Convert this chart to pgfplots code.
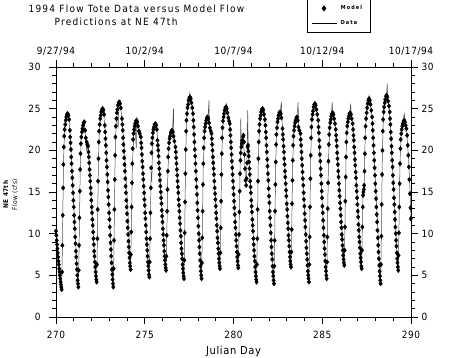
\documentclass[border=0pt]{standalone}
\usepackage{fontspec}
\usepackage{pgfplots}
\usepackage{pgfplotstable}
\pgfplotsset{compat=1.18}
\newfontfamily\cf[LetterSpace=6]{DejaVu Sans Condensed}
\newfontfamily\tf[LetterSpace=13]{DejaVu Sans Condensed}
\newfontfamily\lf[LetterSpace=20]{DejaVu Sans Condensed}

\pgfplotstableread{
t q
270.00 10.3
270.02 9.8
270.04 9.2
270.06 8.7
270.08 8.2
270.10 7.7
270.12 7.2
270.14 6.7
270.16 6.3
270.18 5.8
270.20 5.4
270.22 5.0
270.24 4.6
270.26 4.2
270.28 3.9
270.30 3.6
270.32 3.3
270.34 5.4
270.36 8.6
270.38 12.2
270.40 15.5
270.42 18.3
270.44 20.4
270.46 21.7
270.49 22.5
270.52 23.1
270.55 23.6
270.58 24.0
270.62 24.3
270.66 24.4
270.70 24.2
270.74 23.7
270.78 22.4
270.80 21.6
270.82 20.9
270.84 20.1
270.86 19.2
270.88 18.4
270.90 17.5
270.92 16.7
270.94 15.8
270.96 14.9
270.98 14.0
271.00 13.2
271.02 12.2
271.04 11.4
271.06 10.6
271.08 9.6
271.10 8.8
271.12 7.9
271.14 7.2
271.16 6.4
271.18 5.7
271.20 5.0
271.22 4.4
271.24 4.0
271.26 3.6
271.28 5.6
271.30 8.6
271.32 11.9
271.34 15.1
271.36 17.7
271.38 19.6
271.40 20.8
271.43 21.6
271.46 22.2
271.49 22.6
271.52 23.0
271.56 23.3
271.60 23.4
271.64 22.4
271.68 21.5
271.73 21.0
271.77 20.7
271.81 20.5
271.83 19.8
271.85 19.2
271.87 18.5
271.89 17.7
271.91 17.0
271.93 16.3
271.95 15.5
271.97 14.8
271.99 14.0
272.01 13.2
272.03 12.5
272.05 11.7
272.07 11.0
272.09 10.2
272.11 9.4
272.13 8.7
272.15 7.9
272.17 7.3
272.19 6.6
272.21 6.0
272.23 5.4
272.25 4.9
272.27 4.5
272.29 4.2
272.31 6.3
272.33 9.4
272.35 12.9
272.37 16.3
272.39 19.0
272.41 21.0
272.43 22.3
272.46 23.1
272.49 23.8
272.52 24.2
272.55 24.6
272.59 24.9
272.63 25.0
272.67 24.8
272.71 24.3
272.75 23.0
272.77 22.2
272.79 21.4
272.81 20.6
272.83 19.7
272.85 18.8
272.87 18.0
272.89 17.1
272.91 16.2
272.93 15.2
272.95 14.4
272.97 13.5
272.99 12.5
273.01 11.7
273.03 10.8
273.05 9.8
273.07 8.9
273.09 8.1
273.11 7.3
273.13 6.5
273.15 5.7
273.17 5.1
273.19 4.5
273.21 4.0
273.23 3.6
273.25 5.8
273.27 9.2
273.29 12.9
273.31 16.5
273.33 19.4
273.35 21.6
273.37 22.9
273.40 23.8
273.43 24.5
273.46 24.9
273.49 25.4
273.53 25.7
273.57 25.8
273.61 25.6
273.65 25.1
273.72 23.8
273.74 23.1
273.76 22.4
273.78 21.5
273.80 20.7
273.82 19.9
273.84 19.1
273.86 18.3
273.88 17.5
273.90 16.6
273.92 15.7
273.94 14.9
273.96 14.0
273.98 13.2
274.00 12.4
274.02 11.5
274.04 10.7
274.06 9.9
274.08 9.1
274.10 8.4
274.12 7.7
274.14 7.1
274.16 6.5
274.18 6.1
274.20 5.7
274.22 7.5
274.24 10.2
274.26 13.2
274.28 16.1
274.30 18.4
274.32 20.2
274.34 21.3
274.37 22.0
274.40 22.5
274.43 22.9
274.46 23.2
274.50 23.5
274.54 23.6
274.58 23.4
274.62 22.9
274.67 22.3
274.72 22.0
274.78 21.6
274.80 20.9
274.82 20.3
274.84 19.5
274.86 18.7
274.88 18.0
274.90 17.2
274.92 16.5
274.94 15.7
274.96 14.9
274.98 14.1
275.00 13.4
275.02 12.5
275.04 11.8
275.06 11.0
275.08 10.2
275.10 9.4
275.12 8.7
275.14 8.0
275.16 7.3
275.18 6.6
275.20 6.1
275.22 5.6
275.24 5.1
275.26 4.8
275.28 6.6
275.30 9.4
275.32 12.5
275.34 15.5
275.36 17.9
275.38 19.7
275.40 20.8
275.43 21.5
275.46 22.1
275.49 22.5
275.52 22.8
275.56 23.1
275.60 23.2
275.64 23.0
275.68 22.5
275.72 21.2
275.74 20.6
275.76 20.0
275.78 19.3
275.80 18.5
275.82 17.8
275.84 17.1
275.86 16.4
275.88 15.7
275.90 15.0
275.92 14.3
275.94 13.6
275.96 12.8
275.98 12.1
276.00 11.4
276.02 10.6
276.04 9.9
276.06 9.2
276.08 8.6
276.10 7.9
276.12 7.3
276.14 6.8
276.16 6.3
276.18 5.9
276.20 5.6
276.22 7.3
276.24 9.8
276.26 12.7
276.28 15.3
276.30 17.5
276.32 19.2
276.34 20.2
276.37 20.9
276.40 21.4
276.43 21.7
276.46 22.1
276.50 22.3
276.54 22.4
276.58 22.2
276.62 21.7
276.67 21.1
276.73 20.4
276.75 19.8
276.77 19.1
276.79 18.4
276.81 17.7
276.83 17.0
276.85 16.3
276.87 15.6
276.89 14.9
276.91 14.1
276.93 13.4
276.95 12.7
276.97 11.9
276.99 11.2
277.01 10.4
277.03 9.7
277.05 8.9
277.07 8.2
277.09 7.6
277.11 7.0
277.13 6.3
277.15 5.8
277.17 5.3
277.19 4.9
277.21 4.6
277.23 6.8
277.25 10.1
277.27 13.8
277.29 17.2
277.31 20.1
277.33 22.3
277.35 23.6
277.38 24.4
277.41 25.1
277.44 25.5
277.47 26.0
277.51 26.3
277.55 26.4
277.59 26.2
277.63 25.7
277.68 25.1
277.72 24.4
277.74 23.6
277.76 22.8
277.78 21.9
277.80 21.0
277.82 20.1
277.84 19.3
277.86 18.4
277.88 17.5
277.90 16.5
277.92 15.6
277.94 14.7
277.96 13.7
277.98 12.8
278.00 11.9
278.02 10.9
278.04 10.0
278.06 9.2
278.08 8.4
278.10 7.6
278.12 6.8
278.14 6.1
278.16 5.5
278.18 5.0
278.20 4.6
278.22 6.5
278.24 9.5
278.26 12.7
278.28 15.9
278.30 18.4
278.32 20.3
278.34 21.5
278.37 22.3
278.40 22.8
278.43 23.2
278.46 23.6
278.50 23.9
278.54 24.0
278.58 23.8
278.62 23.3
278.67 22.7
278.72 22.3
278.76 22.0
278.78 21.4
278.80 20.7
278.82 20.0
278.84 19.2
278.86 18.5
278.88 17.8
278.90 17.1
278.92 16.3
278.94 15.5
278.96 14.8
278.98 14.1
279.00 13.3
279.02 12.5
279.04 11.8
279.06 11.0
279.08 10.3
279.10 9.5
279.12 8.9
279.14 8.2
279.16 7.6
279.18 7.0
279.20 6.5
279.22 6.1
279.24 5.8
279.26 7.7
279.28 10.7
279.30 13.9
279.32 17.1
279.34 19.6
279.36 21.5
279.38 22.7
279.41 23.5
279.44 24.0
279.47 24.4
279.50 24.8
279.54 25.1
279.58 25.2
279.62 25.0
279.66 24.5
279.71 23.9
279.75 23.5
279.79 23.2
279.81 22.5
279.83 21.8
279.85 21.0
279.87 20.3
279.89 19.5
279.91 18.7
279.93 17.9
279.95 17.1
279.97 16.3
279.99 15.5
280.01 14.7
280.03 13.9
280.05 13.1
280.07 12.3
280.09 11.4
280.11 10.7
280.13 9.9
280.15 9.2
280.17 8.5
280.19 7.8
280.21 7.2
280.23 6.7
280.25 6.2
280.27 5.9
280.29 7.5
280.31 9.9
280.33 12.6
280.35 15.1
280.37 17.2
280.39 18.8
280.41 19.7
280.44 20.4
280.47 20.8
280.50 21.2
280.53 21.6
280.56 21.8
280.59 21.0
280.62 19.5
280.65 17.8
280.68 16.4
280.71 15.8
280.74 16.6
280.77 18.5
280.80 20.4
280.82 20.6
280.84 19.9
280.86 19.3
280.88 18.6
280.90 17.8
280.92 17.1
280.94 16.3
280.96 15.6
280.98 14.9
281.00 14.0
281.02 13.3
281.04 12.6
281.06 11.7
281.08 11.0
281.10 10.3
281.12 9.4
281.14 8.7
281.16 8.0
281.18 7.3
281.20 6.7
281.22 6.0
281.24 5.4
281.26 4.9
281.28 4.5
281.30 4.2
281.32 6.3
281.34 9.4
281.36 12.9
281.38 16.3
281.40 19.0
281.42 21.0
281.44 22.3
281.47 23.1
281.50 23.8
281.53 24.2
281.56 24.6
281.60 24.9
281.64 25.0
281.68 24.8
281.72 24.3
281.77 23.7
281.80 23.0
281.82 22.2
281.84 21.5
281.86 20.6
281.88 19.8
281.90 18.9
281.92 18.1
281.94 17.2
281.96 16.4
281.98 15.4
282.00 14.5
282.02 13.7
282.04 12.7
282.06 11.9
282.08 11.0
282.10 10.1
282.12 9.2
282.14 8.4
282.16 7.6
282.18 6.9
282.20 6.1
282.22 5.4
282.24 4.9
282.26 4.4
282.28 4.0
282.30 6.1
282.32 9.2
282.34 12.7
282.36 15.9
282.38 18.6
282.40 20.7
282.42 21.9
282.45 22.7
282.48 23.4
282.51 23.8
282.54 24.2
282.58 24.5
282.62 24.6
282.66 24.4
282.70 23.9
282.76 22.6
282.78 21.9
282.80 21.3
282.82 20.5
282.84 19.8
282.86 19.0
282.88 18.3
282.90 17.5
282.92 16.8
282.94 16.0
282.96 15.2
282.98 14.5
283.00 13.6
283.02 12.9
283.04 12.1
283.06 11.3
283.08 10.6
283.10 9.8
283.12 9.2
283.14 8.5
283.16 7.8
283.18 7.2
283.20 6.7
283.22 6.3
283.24 6.0
283.26 7.8
283.28 10.5
283.30 13.6
283.32 16.4
283.34 18.8
283.36 20.6
283.38 21.7
283.41 22.4
283.44 22.9
283.47 23.3
283.50 23.6
283.54 23.9
283.58 24.0
283.62 23.6
283.66 22.8
283.71 22.4
283.77 22.0
283.79 21.3
283.81 20.6
283.83 19.8
283.85 19.0
283.87 18.2
283.89 17.4
283.91 16.6
283.93 15.8
283.95 14.9
283.97 14.1
283.99 13.3
284.01 12.4
284.03 11.6
284.05 10.8
284.07 9.9
284.09 9.1
284.11 8.3
284.13 7.6
284.15 6.9
284.17 6.2
284.19 5.5
284.21 5.0
284.23 4.6
284.25 4.2
284.27 6.3
284.29 9.6
284.31 13.2
284.33 16.6
284.35 19.4
284.37 21.5
284.39 22.8
284.42 23.7
284.45 24.3
284.48 24.7
284.51 25.2
284.55 25.5
284.59 25.6
284.63 25.4
284.67 24.9
284.72 24.3
284.77 23.6
284.79 22.8
284.81 22.1
284.83 21.2
284.85 20.4
284.87 19.5
284.89 18.7
284.91 17.8
284.93 17.0
284.95 16.0
284.97 15.1
284.99 14.3
285.01 13.3
285.03 12.5
285.05 11.6
285.07 10.7
285.09 9.8
285.11 9.0
285.13 8.2
285.15 7.5
285.17 6.7
285.19 6.0
285.21 5.5
285.23 5.0
285.25 4.6
285.27 6.6
285.29 9.6
285.31 13.0
285.33 16.1
285.35 18.7
285.37 20.7
285.39 21.9
285.42 22.7
285.45 23.3
285.48 23.7
285.51 24.1
285.55 24.4
285.59 24.5
285.63 24.3
285.67 23.8
285.72 23.2
285.76 22.5
285.78 21.8
285.80 21.2
285.82 20.5
285.84 19.7
285.86 19.0
285.88 18.3
285.90 17.5
285.92 16.8
285.94 16.0
285.96 15.2
285.98 14.5
286.00 13.7
286.02 13.0
286.04 12.2
286.06 11.4
286.08 10.7
286.10 9.9
286.12 9.3
286.14 8.6
286.16 8.0
286.18 7.4
286.20 6.9
286.22 6.5
286.24 6.2
286.26 8.0
286.28 10.8
286.30 13.9
286.32 16.8
286.34 19.2
286.36 21.0
286.38 22.1
286.41 22.9
286.44 23.4
286.47 23.8
286.50 24.1
286.54 24.4
286.58 24.5
286.62 24.3
286.66 23.8
286.71 23.2
286.74 22.5
286.76 21.8
286.78 21.2
286.80 20.4
286.82 19.7
286.84 18.9
286.86 18.2
286.88 17.4
286.90 16.7
286.92 15.8
286.94 15.1
286.96 14.3
286.98 13.5
287.00 12.7
287.02 12.0
287.04 11.1
287.06 10.4
287.08 9.6
287.10 9.0
287.12 8.3
287.14 7.6
287.16 7.1
287.18 6.6
287.20 6.1
287.22 5.8
287.24 8.0
287.26 10.8
287.28 13.2
287.30 14.6
287.32 15.0
287.34 15.3
287.36 15.8
287.38 17.5
287.40 19.6
287.42 21.5
287.44 22.9
287.47 23.8
287.50 24.5
287.53 25.1
287.56 25.6
287.60 26.0
287.64 26.2
287.68 26.0
287.72 25.5
287.76 24.8
287.81 24.0
287.83 23.2
287.85 22.4
287.87 21.5
287.89 20.6
287.91 19.7
287.93 18.8
287.95 17.9
287.97 17.0
287.99 16.0
288.01 15.1
288.03 14.2
288.05 13.2
288.07 12.3
288.09 11.4
288.11 10.4
288.13 9.5
288.15 8.6
288.17 7.8
288.19 7.0
288.21 6.2
288.23 5.5
288.25 4.9
288.27 4.4
288.29 4.0
288.31 6.3
288.33 9.7
288.35 13.5
288.37 17.1
288.39 20.0
288.41 22.3
288.43 23.7
288.46 24.6
288.49 25.2
288.52 25.7
288.55 26.1
288.59 26.5
288.63 26.6
288.67 26.4
288.71 25.9
288.76 25.3
288.80 24.6
288.82 23.8
288.84 23.1
288.86 22.2
288.88 21.4
288.90 20.5
288.92 19.7
288.94 18.8
288.96 18.0
288.98 17.0
289.00 16.1
289.02 15.3
289.04 14.3
289.06 13.5
289.08 12.6
289.10 11.7
289.12 10.8
289.14 10.0
289.16 9.2
289.18 8.5
289.20 7.7
289.22 7.0
289.24 6.5
289.26 6.0
289.28 5.6
289.30 7.4
289.32 10.1
289.34 13.2
289.36 16.0
289.38 18.4
289.40 20.2
289.42 21.3
289.45 22.0
289.48 22.5
289.51 22.9
289.54 23.2
289.58 23.5
289.62 23.6
289.66 23.4
289.70 23.0
289.74 22.6
289.78 21.8
289.82 20.6
289.85 19.4
289.88 18.0
289.91 16.5
289.94 14.8
289.97 13.1
289.99 11.8
}\model

\pgfplotstableread{
t q
270.00 10.5
270.10 7.9
270.20 5.6
270.31 3.5
270.36 8.0
270.40 15.0
270.44 20.0
270.50 22.8
270.56 24.0
270.62 24.6
270.68 24.0
270.74 23.5
270.80 21.8
270.90 17.6
271.00 13.4
271.10 9.0
271.20 5.2
271.26 3.8
271.30 8.2
271.36 17.0
271.42 21.5
271.50 22.6
271.58 23.6
271.66 21.6
271.72 20.0
271.82 20.4
271.92 17.0
272.02 13.0
272.12 9.2
272.22 5.8
272.29 4.4
272.33 9.0
272.39 18.5
272.45 22.8
272.52 24.2
272.60 25.2
272.68 24.6
272.76 22.6
272.86 18.4
272.96 14.2
273.06 10.2
273.16 6.4
273.23 3.8
273.27 9.0
273.33 19.0
273.40 23.6
273.47 24.0
273.50 22.6
273.55 25.4
273.62 25.9
273.70 24.0
273.74 22.8
273.84 20.8
273.94 17.0
274.04 13.2
274.14 8.6
274.20 5.9
274.24 10.0
274.30 18.0
274.38 21.8
274.46 22.8
274.52 20.2
274.56 23.8
274.64 23.0
274.72 22.2
274.80 21.0
274.90 17.6
275.00 13.8
275.10 10.2
275.20 6.4
275.26 5.0
275.30 9.2
275.36 17.5
275.40 16.2
275.44 21.0
275.52 22.8
275.60 23.4
275.68 22.6
275.76 20.0
275.86 16.6
275.96 13.4
276.06 10.2
276.14 7.2
276.20 5.8
276.24 9.6
276.30 17.2
276.38 21.0
276.46 22.0
276.56 22.4
276.62 25.0
276.64 21.8
276.72 20.5
276.82 17.2
276.92 13.8
277.02 10.5
277.12 7.2
277.21 4.8
277.25 10.0
277.31 20.0
277.38 24.4
277.46 25.8
277.54 26.9
277.58 26.2
277.66 25.4
277.74 23.6
277.84 19.4
277.94 15.2
278.04 11.2
278.12 7.6
278.20 4.8
278.24 9.6
278.30 18.5
278.38 22.4
278.46 23.6
278.56 23.8
278.62 26.0
278.64 23.2
278.74 22.0
278.84 18.8
278.94 15.6
279.04 12.4
279.14 9.2
279.24 6.0
279.28 10.8
279.34 19.6
279.42 23.6
279.50 24.8
279.60 25.6
279.68 24.6
279.78 23.2
279.88 19.6
279.98 16.2
280.08 12.6
280.18 9.0
280.27 6.1
280.31 10.0
280.37 17.4
280.41 23.9
280.44 20.4
280.52 21.8
280.60 19.8
280.68 16.2
280.74 16.6
280.80 24.8
280.83 20.4
280.92 17.0
281.02 13.2
281.12 9.6
281.22 6.2
281.30 4.4
281.34 9.6
281.40 19.2
281.48 23.2
281.56 24.6
281.64 25.2
281.72 24.2
281.80 22.8
281.90 18.6
282.00 14.6
282.10 10.6
282.20 6.6
282.28 4.2
282.32 9.4
282.38 18.8
282.46 23.0
282.54 24.2
282.62 24.5
282.70 25.8
282.73 23.8
282.80 21.2
282.90 17.6
283.00 14.2
283.10 10.8
283.18 8.0
283.24 6.2
283.28 10.8
283.34 19.0
283.42 22.6
283.50 23.6
283.58 24.2
283.64 25.8
283.67 22.8
283.76 22.0
283.86 18.4
283.96 14.6
284.06 10.6
284.16 6.8
284.25 4.4
284.29 9.8
284.35 19.4
284.43 24.0
284.50 25.2
284.58 25.8
284.66 25.0
284.76 23.8
284.86 19.6
284.96 15.4
285.06 11.2
285.16 7.2
285.25 4.8
285.29 9.8
285.35 18.8
285.43 22.9
285.50 23.8
285.56 25.8
285.59 24.4
285.66 24.0
285.76 22.4
285.86 19.2
285.96 16.0
286.06 12.6
286.16 9.0
286.24 6.4
286.28 11.0
286.34 19.4
286.42 23.0
286.50 24.0
286.56 24.8
286.60 25.6
286.63 24.2
286.72 23.0
286.82 19.6
286.92 16.4
287.02 13.0
287.12 9.6
287.22 6.0
287.26 11.0
287.30 14.8
287.36 15.6
287.42 22.0
287.50 24.6
287.58 25.8
287.64 26.6
287.70 26.0
287.80 24.0
287.90 20.0
288.00 16.0
288.10 12.0
288.20 7.6
288.29 4.2
288.33 10.0
288.39 20.2
288.46 24.8
288.54 26.0
288.62 26.6
288.66 28.0
288.69 26.4
288.78 24.8
288.90 20.2
289.00 16.4
289.10 12.4
289.20 8.2
289.28 5.8
289.32 10.6
289.38 18.6
289.46 22.4
289.54 23.4
289.62 24.4
289.68 23.4
289.76 22.2
289.86 19.0
289.94 15.6
290.00 11.6
}\flowdata

\begin{document}
\begin{tikzpicture}
\useasboundingbox (-56bp,-41bp) rectangle (418bp,317bp);
\begin{axis}[
  at={(0,0)}, anchor=south west, scale only axis,
  width=355bp, height=250bp,
  xmin=270, xmax=290, ymin=0, ymax=30,
  xtick={270,275,...,290}, ytick={0,5,...,30},
  minor x tick num=4, minor y tick num=4,
  tick align=outside, tick pos=both,
  major tick length=7bp, minor tick length=4bp,
  every tick/.style={black, line width=0.6pt},
  axis line style={black, line width=0.7pt},
  /pgf/number format/assume math mode=true,
  ticklabel style={font=\cf\fontsize{10}{12}\selectfont},
  xticklabel style={yshift=-4bp},
  yticklabel style={xshift=-5bp},
  xlabel={Julian Day},
  every axis x label/.style={at={(axis description cs:0.5,-0.136)}, anchor=center, font=\cf\fontsize{11}{13}\selectfont},
  ylabel={\textbf{NE 47th}\\Flow (cfs)},
  every axis y label/.style={at={(axis description cs:-0.128,0.49)}, rotate=90, anchor=center, align=center, font=\cf\fontsize{6.5}{9}\selectfont},
  legend style={at={(axis description cs:0.707,1.136)}, anchor=south west, draw=black, line width=0.6pt,
    font=\lf\bfseries\fontsize{5.5}{6.5}\selectfont, inner xsep=4bp, inner ysep=5bp, row sep=5bp,
    nodes={inner xsep=4bp},
    legend cell align=left},
]
\addplot[only marks, mark=diamond*, mark size=2.3pt, black,
  legend image code/.code={\draw[only marks, mark=diamond*, mark size=2.6pt, black] plot coordinates {(12.5bp,0bp)};}] table[x=t,y=q] {\model};
\addlegendentry{Model}
\addplot[black!70, line width=0.5pt, no marks,
  legend image code/.code={\draw[black, line width=0.5pt] (0bp,0bp) -- (25bp,0bp);}] table[x=t,y=q] {\flowdata};
\addlegendentry{Data}
\end{axis}
\begin{axis}[
  at={(0,0)}, anchor=south west, scale only axis,
  width=355bp, height=250bp,
  xmin=270, xmax=290, ymin=0, ymax=30,
  xtick={270,275,...,290}, ytick={0,5,...,30},
  xticklabels={9/27/94,10/2/94,10/7/94,10/12/94,10/17/94},
  xticklabel pos=right, yticklabel pos=right,
  axis line style={draw=none}, major tick length=0pt,
  /pgf/number format/assume math mode=true,
  ticklabel style={font=\cf\fontsize{10}{12}\selectfont},
  xticklabel style={yshift=8bp},
  yticklabel style={xshift=7bp},
]
\addplot[draw=none] coordinates {(270,0)};
\end{axis}
\node[anchor=base west, font=\tf\fontsize{10}{12}\selectfont] at (-31bp,304.5bp) {1994 Flow Tote Data versus Model Flow};
\node[anchor=base west, font=\tf\fontsize{10}{12}\selectfont] at (-5bp,291bp) {Predictions at NE 47th};
\end{tikzpicture}
\end{document}
